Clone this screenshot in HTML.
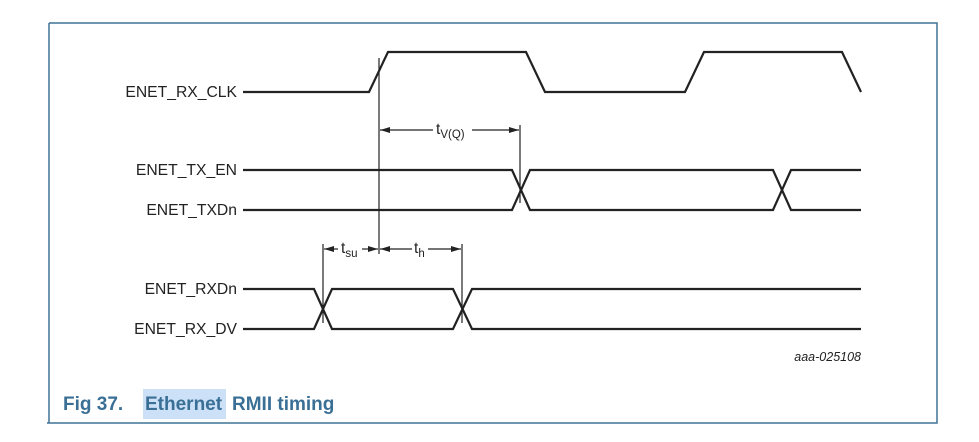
<!DOCTYPE html>
<html><head><meta charset="utf-8"><style>
html,body{margin:0;padding:0;background:#fff;}
svg{display:block;}
</style></head><body>
<svg width="979" height="442" viewBox="0 0 979 442" xmlns="http://www.w3.org/2000/svg">
<defs>
<marker id="ar" viewBox="0 0 10 6" refX="10" refY="3" markerWidth="10" markerHeight="6" markerUnits="userSpaceOnUse" orient="auto-start-reverse">
<path d="M0,0 L10,3 L0,6 z" fill="#222"/>
</marker>
</defs>
<path d="M49,23 H937 V423 H47" fill="none" stroke="#3f7397" stroke-width="1.5"/>
<line x1="49" y1="23" x2="49" y2="423" stroke="#3f7397" stroke-width="1.5"/>
<g font-family="Liberation Sans, sans-serif" font-size="15.7" fill="#222" text-anchor="end">
<text x="237" y="97">ENET_RX_CLK</text>
<text x="237" y="175">ENET_TX_EN</text>
<text x="237" y="215">ENET_TXDn</text>
<text x="237" y="294">ENET_RXDn</text>
<text x="237" y="334">ENET_RX_DV</text>
</g>
<g fill="none" stroke="#222" stroke-width="2.2" stroke-linejoin="miter">
<path d="M243,92 H369 L388,52 H526 L545,92 H685 L704,52 H842 L861,92"/>
<path d="M243,170 H512 L530,210 H773 L791,170 H861"/>
<path d="M243,210 H512 L530,170 H773 L791,210 H861"/>
<path d="M243,289 H314 L332,329 H453 L472,289 H861"/>
<path d="M243,329 H314 L332,289 H453 L472,329 H861"/>
</g>
<g stroke="#222" stroke-width="1.2" fill="none">
<line x1="379" y1="58" x2="379" y2="254"/>
<line x1="520" y1="125" x2="520" y2="203"/>
<line x1="323" y1="244" x2="323" y2="323"/>
<line x1="462" y1="244" x2="462" y2="323"/>
<line x1="380" y1="130" x2="433" y2="130" marker-start="url(#ar)"/>
<line x1="472" y1="130" x2="519" y2="130" marker-end="url(#ar)"/>
<line x1="324" y1="249" x2="338" y2="249" marker-start="url(#ar)"/>
<line x1="362" y1="249" x2="378" y2="249" marker-end="url(#ar)"/>
<line x1="380" y1="249" x2="412" y2="249" marker-start="url(#ar)"/>
<line x1="428" y1="249" x2="461" y2="249" marker-end="url(#ar)"/>
</g>
<g font-family="Liberation Sans, sans-serif" fill="#222">
<text x="436" y="134" font-size="15.5">t<tspan font-size="11.5" dy="4">V(Q)</tspan></text>
<text x="341" y="253" font-size="15.5">t<tspan font-size="11.5" dy="4">su</tspan></text>
<text x="414" y="253" font-size="15.5">t<tspan font-size="11.5" dy="4">h</tspan></text>
<text x="861" y="361" font-size="12.5" font-style="italic" text-anchor="end">aaa-025108</text>
</g>
<rect x="143" y="389" width="83" height="30" fill="#cce0f7"/>
<text x="63" y="410" font-family="Liberation Sans, sans-serif" font-size="19" font-weight="bold" fill="#3a6f96">Fig 37.<tspan x="145">Ethernet</tspan><tspan x="232">RMII timing</tspan></text>
</svg>
</body></html>
